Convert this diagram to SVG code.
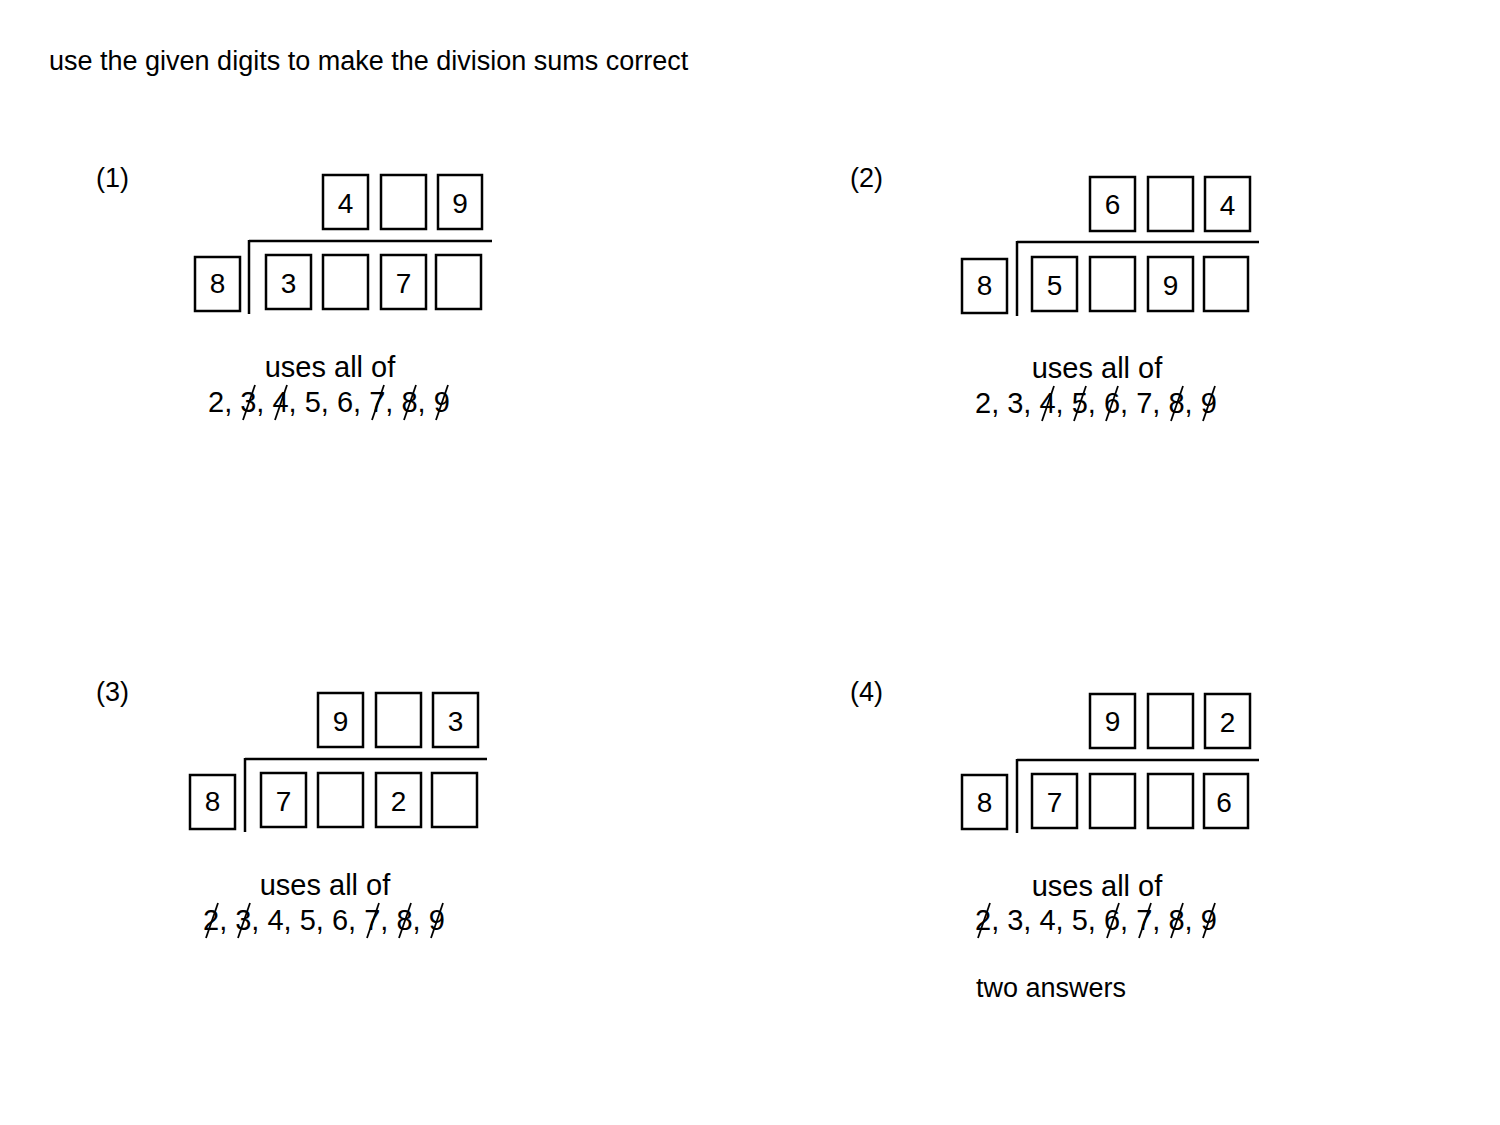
<svg xmlns="http://www.w3.org/2000/svg" width="1500" height="1125" viewBox="0 0 1500 1125">
<style>
text{font-family:"Liberation Sans",Arial,sans-serif;fill:#000}
.t{font-size:27px}
.d{font-size:28px;text-anchor:middle}
.l{font-size:29px}
.c{font-size:29px;text-anchor:middle}
rect{fill:#fff;stroke:#000;stroke-width:2.5}
line{stroke:#000;stroke-width:2.5}
.s{stroke-width:1.8}
</style>
<rect x="0" y="0" width="1500" height="1125" style="stroke:none"/>
<text class="t" x="49" y="70">use the given digits to make the division sums correct</text>
<g id="p1">
<text class="t" x="96" y="187">(1)</text>
<rect x="323" y="175" width="45" height="54"/><text class="d" x="345.5" y="213">4</text>
<rect x="381" y="175" width="45" height="54"/>
<rect x="438" y="175" width="44" height="54"/><text class="d" x="460" y="213">9</text>
<line x1="249" y1="241" x2="492" y2="241"/><line x1="249" y1="240" x2="249" y2="314"/>
<rect x="195" y="257" width="45" height="54"/><text class="d" x="217.5" y="293">8</text>
<rect x="266" y="255" width="45" height="54"/><text class="d" x="288.5" y="293">3</text>
<rect x="323" y="255" width="45" height="54"/>
<rect x="381" y="255" width="45" height="54"/><text class="d" x="403.5" y="293">7</text>
<rect x="436" y="255" width="45" height="54"/>
<text class="c" x="330" y="377">uses all of</text>
<text class="l" x="208" y="412">2, 3, 4, 5, 6, 7, 8, 9</text>
<g class="s"><line class="s" x1="243" y1="420" x2="255" y2="385"/><line class="s" x1="275" y1="420" x2="287" y2="385"/><line class="s" x1="372" y1="420" x2="384" y2="385"/><line class="s" x1="404" y1="420" x2="416" y2="385"/><line class="s" x1="436" y1="420" x2="448" y2="385"/></g>
</g>
<g id="p2">
<text class="t" x="850" y="187">(2)</text>
<rect x="1090" y="177" width="45" height="54"/><text class="d" x="1112.5" y="214">6</text>
<rect x="1148" y="177" width="45" height="54"/>
<rect x="1205" y="177" width="45" height="54"/><text class="d" x="1227.5" y="215">4</text>
<line x1="1017" y1="242" x2="1259" y2="242"/><line x1="1017" y1="241" x2="1017" y2="316"/>
<rect x="962" y="259" width="45" height="54"/><text class="d" x="984.5" y="295">8</text>
<rect x="1032" y="257" width="45" height="54"/><text class="d" x="1054.5" y="295">5</text>
<rect x="1090" y="257" width="45" height="54"/>
<rect x="1148" y="257" width="45" height="54"/><text class="d" x="1170.5" y="295">9</text>
<rect x="1204" y="257" width="44" height="54"/>
<text class="c" x="1097" y="378">uses all of</text>
<text class="l" x="975" y="413">2, 3, 4, 5, 6, 7, 8, 9</text>
<line class="s" x1="1042" y1="421" x2="1054" y2="386"/><line class="s" x1="1074" y1="421" x2="1086" y2="386"/><line class="s" x1="1106" y1="421" x2="1118" y2="386"/><line class="s" x1="1171" y1="421" x2="1183" y2="386"/><line class="s" x1="1203" y1="421" x2="1215" y2="386"/>
</g>
<g id="p3">
<text class="t" x="96" y="701">(3)</text>
<rect x="318" y="693" width="45" height="54"/><text class="d" x="340.5" y="731">9</text>
<rect x="376" y="693" width="45" height="54"/>
<rect x="433" y="693" width="45" height="54"/><text class="d" x="455.5" y="731">3</text>
<line x1="245" y1="759" x2="487" y2="759"/><line x1="245" y1="758" x2="245" y2="832"/>
<rect x="190" y="775" width="45" height="54"/><text class="d" x="212.5" y="811">8</text>
<rect x="261" y="773" width="45" height="54"/><text class="d" x="283.5" y="811">7</text>
<rect x="318" y="773" width="45" height="54"/>
<rect x="376" y="773" width="45" height="54"/><text class="d" x="398.5" y="811">2</text>
<rect x="432" y="773" width="45" height="54"/>
<text class="c" x="325" y="895">uses all of</text>
<text class="l" x="203" y="930">2, 3, 4, 5, 6, 7, 8, 9</text>
<line class="s" x1="206" y1="938" x2="218" y2="903"/><line class="s" x1="238" y1="938" x2="250" y2="903"/><line class="s" x1="367" y1="938" x2="379" y2="903"/><line class="s" x1="399" y1="938" x2="411" y2="903"/><line class="s" x1="431" y1="938" x2="443" y2="903"/>
</g>
<g id="p4">
<text class="t" x="850" y="701">(4)</text>
<rect x="1090" y="694" width="45" height="54"/><text class="d" x="1112.5" y="731">9</text>
<rect x="1148" y="694" width="45" height="54"/>
<rect x="1205" y="694" width="45" height="54"/><text class="d" x="1227.5" y="732">2</text>
<line x1="1017" y1="760" x2="1259" y2="760"/><line x1="1017" y1="759" x2="1017" y2="833"/>
<rect x="962" y="775" width="45" height="54"/><text class="d" x="984.5" y="812">8</text>
<rect x="1032" y="774" width="45" height="54"/><text class="d" x="1054.5" y="812">7</text>
<rect x="1090" y="774" width="45" height="54"/>
<rect x="1148" y="774" width="45" height="54"/>
<rect x="1204" y="774" width="44" height="54"/><text class="d" x="1224" y="812">6</text>
<text class="c" x="1097" y="896">uses all of</text>
<text class="l" x="975" y="930">2, 3, 4, 5, 6, 7, 8, 9</text>
<line class="s" x1="978" y1="938" x2="990" y2="903"/><line class="s" x1="1107" y1="938" x2="1119" y2="903"/><line class="s" x1="1139" y1="938" x2="1151" y2="903"/><line class="s" x1="1171" y1="938" x2="1183" y2="903"/><line class="s" x1="1203" y1="938" x2="1215" y2="903"/>
<text class="t" x="976" y="997">two answers</text>
</g>
</svg>
